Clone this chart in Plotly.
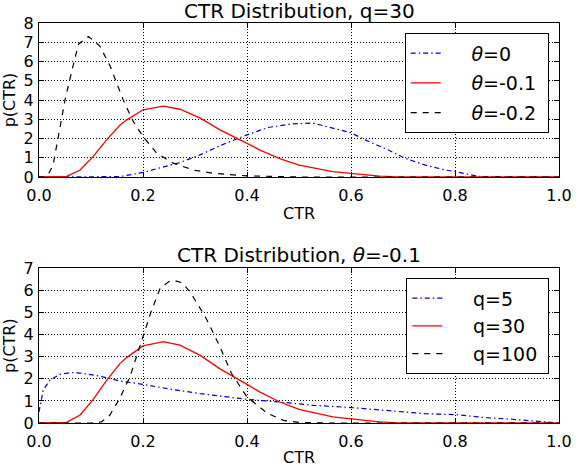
import plotly.graph_objects as go

# ---- data ----
theta0_x = [0.0, 0.1, 0.156, 0.2, 0.27, 0.31, 0.35, 0.4, 0.44, 0.485, 0.527, 0.565, 0.6, 0.627, 0.672, 0.704, 0.743, 0.782, 0.8, 0.848, 0.9, 1.0]
theta0_y = [0.0, 0.0, 0.02, 0.24, 0.74, 1.15, 1.65, 2.19, 2.57, 2.76, 2.8, 2.54, 2.3, 1.93, 1.4, 0.97, 0.62, 0.36, 0.28, 0.02, 0.0, 0.0]

thetam01_x = [0.0, 0.03, 0.053, 0.079, 0.104, 0.13, 0.156, 0.169, 0.2, 0.239, 0.271, 0.31, 0.348, 0.4, 0.425, 0.463, 0.5, 0.515, 0.565, 0.6, 0.655, 0.69, 0.75, 1.0]
thetam01_y = [0.0, 0.0, 0.03, 0.36, 1.06, 1.93, 2.7, 2.97, 3.49, 3.68, 3.52, 3.06, 2.45, 1.75, 1.4, 0.95, 0.62, 0.54, 0.28, 0.19, 0.05, 0.01, 0.0, 0.0]

thetam02_x = [0.0, 0.015, 0.027, 0.05, 0.063, 0.076, 0.095, 0.117, 0.137, 0.162, 0.181, 0.2, 0.226, 0.258, 0.297, 0.335, 0.4, 0.45, 0.5, 1.0]
thetam02_y = [0.0, 0.0, 0.6, 4.0, 5.5, 6.9, 7.3, 6.8, 5.75, 4.0, 2.9, 2.1, 1.25, 0.72, 0.36, 0.19, 0.06, 0.02, 0.0, 0.0]

q5_x = [0.0, 0.008, 0.021, 0.04, 0.06, 0.079, 0.117, 0.156, 0.2, 0.258, 0.31, 0.4, 0.463, 0.527, 0.6, 0.667, 0.743, 0.8, 0.86, 0.91, 0.95, 0.975, 0.99, 1.0]
q5_y = [0.5, 1.48, 1.94, 2.2, 2.28, 2.26, 2.12, 1.9, 1.75, 1.51, 1.33, 1.07, 0.95, 0.8, 0.7, 0.58, 0.42, 0.38, 0.24, 0.17, 0.1, 0.03, 0.0, 0.0]

q30_x = thetam01_x
q30_y = thetam01_y

q100_x = [0.0, 0.1, 0.12, 0.136, 0.155, 0.175, 0.2, 0.215, 0.233, 0.25, 0.26, 0.275, 0.29, 0.32, 0.345, 0.37, 0.4, 0.44, 0.47, 0.5, 0.55, 1.0]
q100_y = [0.0, 0.0, 0.05, 0.35, 1.1, 2.1, 3.9, 5.0, 6.1, 6.4, 6.45, 6.35, 5.95, 4.8, 3.6, 2.25, 1.18, 0.43, 0.12, 0.03, 0.0, 0.0]

top_names = ["<i>θ</i>=0", "<i>θ</i>=-0.1", "<i>θ</i>=-0.2"]
bottom_names = ["q=5", "q=30", "q=100"]
top_title = "CTR Distribution, q=30"
bottom_title = "CTR Distribution, <i>θ</i>=-0.1"
x_ticks = [0.0, 0.2, 0.4, 0.6, 0.8, 1.0]

# ---- layout geometry (pixels) ----
W, H = 576, 467
ML, MR, MT, MB = 39, 17, 23, 44
PH = H - MT - MB


def py(y):
    return 1 - (y - MT) / PH


def px(x):
    return (x - ML) / (W - ML - MR)


FONT = "DejaVu Sans"
blue_style = dict(color="#0000cc", width=1.2, dash="5px,3px,1.5px,3px")
red_style = dict(color="#ff0000", width=1.3)
black_style = dict(color="#000000", width=1.2, dash="6px,6px")

LEAD = "\u00a0" * 3 + "\u2009" * 2
TRAIL = "\u00a0"

fig = go.Figure()
series_top = [(theta0_x, theta0_y, blue_style), (thetam01_x, thetam01_y, red_style), (thetam02_x, thetam02_y, black_style)]
for i, (xs, ys, st) in enumerate(series_top):
    fig.add_trace(go.Scatter(x=xs, y=ys, mode="lines", line=st, name=LEAD + top_names[i] + TRAIL,
                             xaxis="x", yaxis="y", legend="legend", legendgroup="t%d" % i))
series_bot = [(q5_x, q5_y, blue_style), (q30_x, q30_y, red_style), (q100_x, q100_y, black_style)]
for i, (xs, ys, st) in enumerate(series_bot):
    fig.add_trace(go.Scatter(x=xs, y=ys, mode="lines", line=st, name=LEAD + bottom_names[i] + TRAIL,
                             xaxis="x2", yaxis="y2", legend="legend2", legendgroup="b%d" % i))

axis_common = dict(
    showline=True, linecolor="black", linewidth=1, mirror="ticks",
    ticks="inside", ticklen=5, tickcolor="black", tickwidth=1,
    showgrid=True, gridcolor="black", griddash="1px,2px", gridwidth=1,
    zeroline=False, automargin=False,
    tickfont=dict(family=FONT, size=16, color="black"),
)
xaxis_common = dict(axis_common, ticklabelstandoff=4)
yaxis_common = dict(axis_common, ticklabelstandoff=1)

top_dom = [py(177), 1.0]
bot_dom = [0.0, py(268.3)]

fig.update_layout(
    width=W, height=H,
    margin=dict(l=ML, r=MR, t=MT, b=MB, pad=0, autoexpand=False),
    paper_bgcolor="white", plot_bgcolor="white",
    font=dict(family=FONT, color="black"),
    xaxis=dict(xaxis_common, domain=[0, 1], range=[0, 1], tickvals=x_ticks, tickformat=".1f",
               anchor="y", title=dict(text="CTR", font=dict(size=16), standoff=3)),
    yaxis=dict(yaxis_common, domain=top_dom, range=[0, 8], dtick=1, anchor="x",
               title=dict(text="p(CTR)", font=dict(size=16), standoff=4)),
    xaxis2=dict(xaxis_common, domain=[0, 1], range=[0, 1], tickvals=x_ticks, tickformat=".1f",
                anchor="y2", title=dict(text="CTR", font=dict(size=16), standoff=3)),
    yaxis2=dict(yaxis_common, domain=bot_dom, range=[0, 7], dtick=1, anchor="x2",
                title=dict(text="p(CTR)", font=dict(size=16), standoff=4)),
    legend=dict(x=px(548.7), y=py(33.3), xanchor="right", yanchor="top",
                bgcolor="white", bordercolor="black", borderwidth=1,
                font=dict(family=FONT, size=19, color="black"), tracegroupgap=2),
    legend2=dict(x=px(549.3), y=py(278.3), xanchor="right", yanchor="top",
                 bgcolor="white", bordercolor="black", borderwidth=1,
                 font=dict(family=FONT, size=19, color="black"), tracegroupgap=0),
    showlegend=True,
    annotations=[
        dict(text=top_title, x=0.5, y=py(11.3), xref="paper", yref="paper",
             xanchor="center", yanchor="middle", showarrow=False,
             font=dict(family=FONT, size=20, color="black")),
        dict(text=bottom_title, x=0.5, y=py(254.5), xref="paper", yref="paper",
             xanchor="center", yanchor="middle", showarrow=False,
             font=dict(family=FONT, size=20, color="black")),
    ],
)

fig.write_html("out.html", config={"displayModeBar": False},
               post_script="document.body.style.margin='0';document.body.style.padding='0';")
